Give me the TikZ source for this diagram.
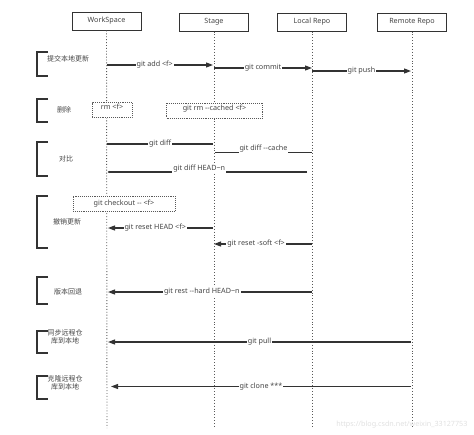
\documentclass[tikz,border=0pt]{standalone}
\usepackage{fontspec}
\setmainfont{Noto Sans}
\newfontfamily\cjk{Noto Sans CJK SC}
\usepackage{tikz}
\usetikzlibrary{arrows,arrows.meta,positioning}
\definecolor{ln}{HTML}{333333}
\definecolor{tx}{HTML}{444444}
\tikzset{font=\fontsize{7.2}{8.5}\selectfont}
\tikzstyle{actor}=[draw=ln,line width=1pt,minimum width=69pt,minimum height=18pt,inner sep=0pt,text=tx]
\tikzstyle{life}=[draw=black!65,dotted,line width=0.9pt]
\tikzstyle{msg}=[color=ln,line width=1.1pt]
\tikzstyle{lbl}=[fill=white,inner sep=1pt,text=tx]
\tikzstyle{dbox}=[draw=black!65,fill=white,densely dotted,line width=0.9pt,minimum height=15pt,inner sep=1pt,text=tx]
\tikzstyle{brk}=[draw=ln,line width=1.3pt]
\tikzstyle{grp}=[text=tx,font=\fontsize{7}{8}\cjk,align=center,inner sep=0pt]

\begin{document}
\begin{tikzpicture}[x=1pt,y=-1pt,>={Triangle[length=7pt,width=5pt]}]
\useasboundingbox (0,0) rectangle (474,434);
\node[actor] (ws) at (106.5,21) {WorkSpace};
\node[actor] (st) at (214,22) {Stage};
\node[actor] (lr) at (312,22) {Local Repo};
\node[actor] (rr) at (412,22) {Remote Repo};
% lifelines
\foreach \a/\x in {ws/107,st/214,lr/312,rr/412}{
  \coordinate (\a-e) at (\x,428);
  \draw[life] (\a) -- (\a-e);
}
% groups
\foreach \t/\b in {52/76,99/122,142/176,196/248,277/304,331/353,376/399}
  \draw[brk] (48,\t) -- (37,\t) -- (37,\b) -- (48,\b);
\node[grp] (g1) at (68,59) {提交本地更新};
\node[grp] (g2) at (64,110) {删除};
\node[grp] (g3) at (66,159) {对比};
\node[grp] (g4) at (67,222) {撤销更新};
\node[grp] (g5) at (68,292) {版本回退};
\node[grp] (g6) at (65,337) {同步远程仓\\库到本地};
\node[grp] (g7) at (65,382.5) {克隆远程仓\\库到本地};
% boxes
\node[dbox,minimum width=40pt,text depth=6pt] (rm) at (112,110) {rm <f>};
\node[dbox,minimum width=96pt,text depth=6pt] (rmc) at (214.5,110.5) {git rm -{}-cached <f>};
\node[dbox,minimum width=102pt] (co) at (124,203.5) {git checkout -{}- <f>};
% message ends
\coordinate (a1) at (107,65);  \coordinate (a2) at (213,65);
\coordinate (c1) at (214,68);  \coordinate (c2) at (312,68);
\coordinate (p1) at (312,71);  \coordinate (p2) at (411,71);
\coordinate (d1) at (107,144); \coordinate (d2) at (213,144);
\coordinate (dc1) at (215,152.5); \coordinate (dc2) at (312,152.5);
\coordinate (dh1) at (307,172); \coordinate (dh2) at (107.5,172);
\coordinate (rh1) at (213,228); \coordinate (rh2) at (108,228);
\coordinate (rs1) at (312,244); \coordinate (rs2) at (214,244);
\coordinate (rb1) at (312,292); \coordinate (rb2) at (108,292);
\coordinate (pl1) at (411,342); \coordinate (pl2) at (108,342);
\coordinate (cl1) at (411,386.5); \coordinate (cl2) at (111,386.5);
\path[msg,->]
(a1) edge node[lbl,pos=0.45]{git add <f>} (a2)
(c1) edge node[lbl]{git commit} (c2)
(p1) edge node[lbl]{git push} (p2)
(rh1) edge node[lbl,pos=0.55]{git reset HEAD <f>} (rh2)
(rs1) edge node[lbl,pos=0.57]{git reset -soft <f>} (rs2)
(rb1) edge node[lbl,pos=0.54]{git rest -{}-hard HEAD\textasciitilde n} (rb2)
(pl1) edge node[lbl]{git pull} (pl2)
(cl1) edge node[lbl]{git clone ***} (cl2);
\path[msg]
(d1) edge node[lbl]{git diff} (d2)
(dc1) edge node[lbl,above=-1.5pt]{git diff -{}-cache} (dc2)
(dh1) edge[-{Latex[length=2pt,width=2.5pt]}] node[lbl,pos=0.54,above=-2pt]{git diff HEAD\textasciitilde n} (dh2);
\node[text=black!12,anchor=east] (wm) at (471,425) {https://blog.csdn.net/weixin\_33127753};
\end{tikzpicture}
\end{document}
